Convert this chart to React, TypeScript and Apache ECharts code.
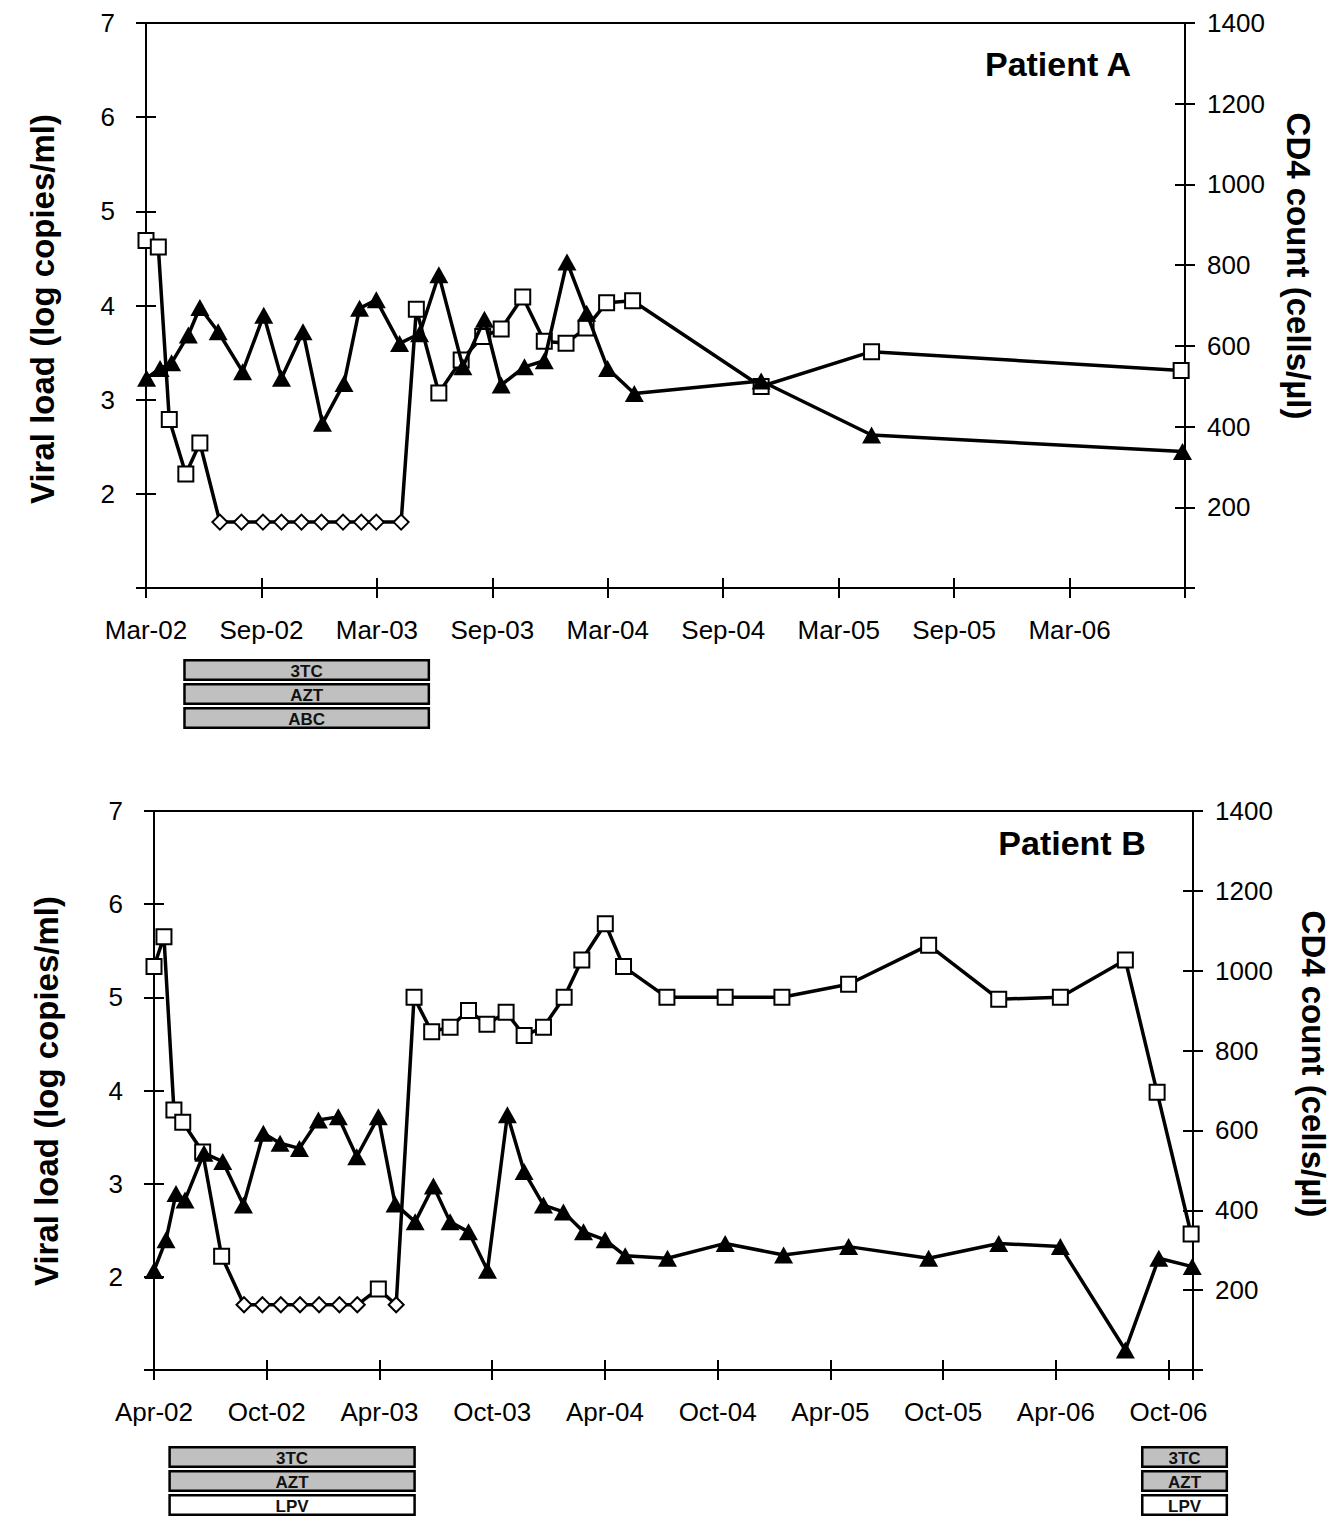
import React, { useEffect, useRef } from "react";
import * as echarts from "echarts";

// ---------- DATA ----------
// Patient A: months since Mar-2002
const ticksA = ["Mar-02", "Sep-02", "Mar-03", "Sep-03", "Mar-04", "Sep-04", "Mar-05", "Sep-05", "Mar-06"];
const vlMonthsA = [0, 0.64, 1.21, 2.07, 2.8, 3.84, 4.96, 6.08, 7.04, 8.08, 9.12, 10.24, 11.19, 11.97, 13.26, 14.05, 15.22, 16.38, 17.5, 18.46, 19.58, 20.7, 21.83, 22.87, 23.94, 25.29, 31.97, 37.71, 53.8];
const vlValuesA = [4.69, 4.62, 2.79, 2.21, 2.54, 1.7, 1.7, 1.7, 1.7, 1.7, 1.7, 1.7, 1.7, 1.7, 1.7, 3.96, 3.07, 3.42, 3.67, 3.75, 4.09, 3.62, 3.6, 3.76, 4.03, 4.05, 3.14, 3.51, 3.31];
const cd4MonthsA = [0.03, 0.73, 1.33, 2.2, 2.8, 3.75, 5.02, 6.12, 7.04, 8.16, 9.17, 10.29, 11.1, 11.97, 13.18, 14.22, 15.22, 16.47, 17.59, 18.46, 19.67, 20.7, 21.88, 22.9, 23.99, 25.38, 31.97, 37.71, 53.87];
const cd4ValuesA = [520, 544, 558, 627, 695, 635, 536, 676, 520, 635, 408, 507, 693, 714, 606, 630, 776, 548, 666, 503, 548, 563, 808, 681, 544, 482, 513, 379, 338];
const drugsA = ["3TC", "AZT", "ABC"];
const periodsA = [[2.0, 14.7]];

// Patient B: months since Apr-2002
const ticksB = ["Apr-02", "Oct-02", "Apr-03", "Oct-03", "Apr-04", "Oct-04", "Apr-05", "Oct-05", "Apr-06", "Oct-06"];
const vlMonthsB = [0, 0.53, 1.06, 1.53, 2.59, 3.6, 4.79, 5.77, 6.75, 7.77, 8.79, 9.87, 10.82, 11.94, 12.89, 13.84, 14.78, 15.76, 16.74, 17.72, 18.74, 19.7, 20.73, 21.83, 22.77, 24.02, 24.99, 27.3, 30.4, 33.42, 36.97, 41.23, 44.96, 48.24, 51.7, 53.39, 55.2];
const vlValuesB = [5.33, 5.65, 3.79, 3.66, 3.34, 2.22, 1.7, 1.7, 1.7, 1.7, 1.7, 1.7, 1.7, 1.87, 1.7, 5.0, 4.63, 4.68, 4.86, 4.71, 4.84, 4.59, 4.68, 5.0, 5.4, 5.79, 5.33, 5.0, 5.0, 5.0, 5.14, 5.56, 4.98, 5.0, 5.4, 3.98, 2.46];
const cd4MonthsB = [0, 0.64, 1.17, 1.65, 2.66, 3.66, 4.76, 5.82, 6.71, 7.74, 8.75, 9.81, 10.79, 11.94, 12.83, 13.9, 14.87, 15.76, 16.74, 17.75, 18.81, 19.7, 20.73, 21.79, 22.86, 24.01, 25.08, 27.33, 30.4, 33.51, 36.97, 41.23, 44.96, 48.24, 51.7, 53.48, 55.26];
const cd4ValuesB = [249, 326, 442, 426, 543, 522, 413, 593, 568, 555, 626, 634, 534, 634, 416, 371, 461, 371, 346, 250, 639, 497, 413, 396, 346, 326, 286, 280, 317, 288, 309, 280, 317, 309, 50, 280, 259];
const drugsB = ["3TC", "AZT", "LPV"];
const periodsB = [[0.83, 13.87], [52.6, 57.1]];

const DETECTION_LIMIT = 1.7;

// ---------- STYLE ----------
const FONT = '"Liberation Sans", Arial, Helvetica, sans-serif';
const drugFill: Record<string, string> = { "3TC": "#c0c0c0", AZT: "#c0c0c0", ABC: "#c0c0c0", LPV: "#ffffff" };
const TICK = { color: "#000", width: 2 };

function xAxisMain(grid: number, max: number, ticks: string[]) {
  return {
    type: "value", gridIndex: grid, min: 0, max, interval: 6, position: "bottom",
    axisLine: { show: true, onZero: false, lineStyle: { color: "#000", width: 2 } },
    axisTick: { show: true, inside: false, length: 10, lineStyle: TICK },
    splitLine: { show: false },
    axisLabel: {
      margin: 29, color: "#000", fontSize: 26, fontFamily: FONT,
      formatter: (v: number) => {
        const i = Math.round(v / 6);
        return Math.abs(v - i * 6) < 1e-6 && i < ticks.length ? ticks[i] : "";
      },
    },
  };
}
function xAxisTwin(grid: number, max: number) {
  return {
    type: "value", gridIndex: grid, min: 0, max, interval: 6, position: "bottom",
    axisLine: { show: false, onZero: false }, splitLine: { show: false }, axisLabel: { show: false },
    axisTick: { show: true, inside: true, length: 10, lineStyle: TICK },
  };
}
function xAxisHidden(grid: number, max: number) {
  return { type: "value", gridIndex: grid, min: 0, max, show: false, splitLine: { show: false } };
}
function yAxis(grid: number, pos: string, min: number, max: number, interval: number, margin: number) {
  return {
    type: "value", gridIndex: grid, position: pos, min, max, interval,
    axisLine: { show: true, onZero: false, lineStyle: { color: "#000", width: 2 } },
    axisTick: { show: true, inside: false, length: 10, lineStyle: TICK },
    splitLine: { show: false },
    axisLabel: {
      margin, color: "#000", fontSize: 26, fontFamily: FONT,
      formatter: (v: number) => (v === min ? "" : String(v)),
    },
  };
}
function yAxisTwin(grid: number, pos: string, min: number, max: number, interval: number) {
  return {
    type: "value", gridIndex: grid, position: pos, min, max, interval,
    axisLine: { show: false, onZero: false }, splitLine: { show: false }, axisLabel: { show: false },
    axisTick: { show: true, inside: true, length: 10, lineStyle: TICK },
  };
}
function yAxisHidden(grid: number) {
  return { type: "value", gridIndex: grid, min: 0, max: 3, inverse: true, show: false, splitLine: { show: false } };
}

function vlSeries(x: number, y: number, months: number[], values: number[]) {
  return {
    type: "line", xAxisIndex: x, yAxisIndex: y, z: 2,
    lineStyle: { color: "#000", width: 3.5 },
    itemStyle: { color: "#fff", borderColor: "#000", borderWidth: 2 },
    symbolSize: 15,
    data: months.map((m, i) => ({
      value: [m, values[i]],
      symbol: values[i] === DETECTION_LIMIT ? "diamond" : "rect",
      symbolSize: values[i] === DETECTION_LIMIT ? 15 : 15,
    })),
  };
}
function cd4Series(x: number, y: number, months: number[], values: number[]) {
  return {
    type: "line", xAxisIndex: x, yAxisIndex: y, z: 3,
    lineStyle: { color: "#000", width: 3.5 },
    itemStyle: { color: "#000", borderColor: "#000", borderWidth: 0 },
    symbol: "triangle", symbolSize: [19, 17],
    data: months.map((m, i) => [m, values[i]]),
  };
}
function treatSeries(x: number, y: number, drugs: string[], periods: number[][]) {
  const data: number[][] = [];
  periods.forEach((p) => drugs.forEach((_, r) => data.push([p[0], p[1], r])));
  return {
    type: "custom", xAxisIndex: x, yAxisIndex: y, clip: false,
    data,
    renderItem: (params: any, api: any) => {
      const r = api.value(2);
      const s = api.coord([api.value(0), r + 0.5]);
      const e = api.coord([api.value(1), r + 0.5]);
      const h = api.size([0, 1])[1] * 0.82;
      const name = drugs[r];
      return {
        type: "group",
        children: [
          { type: "rect", shape: { x: s[0], y: s[1] - h / 2, width: e[0] - s[0], height: h },
            style: { fill: drugFill[name], stroke: "#000", lineWidth: 2.5 } },
          { type: "text", style: { text: name, x: (s[0] + e[0]) / 2, y: s[1] + 1, align: "center", verticalAlign: "middle",
            font: `bold 17px ${FONT}`, fill: "#111" } },
        ],
      };
    },
  };
}

function textG(text: string, x: number, y: number, size: number, rotation = 0) {
  return {
    type: "text", x, y, rotation,
    style: { text, align: "center", verticalAlign: "middle", font: `bold ${size}px ${FONT}`, fill: "#000" },
  };
}

export default function App() {
  const ref = useRef<HTMLDivElement>(null);
  useEffect(() => {
    if (!ref.current) return;
    const chart = echarts.init(ref.current, undefined, { renderer: "svg" });
    const maxA = 54;
    const maxB = 55.3;
    const gA = { left: 146, top: 23, width: 1039, height: 565 };
    const gB = { left: 154, top: 811, width: 1039, height: 559 };
    chart.setOption({
      animation: false,
      backgroundColor: "#fff",
      grid: [
        { ...gA, show: true, borderColor: "#000", borderWidth: 2, backgroundColor: "transparent" },
        { left: 146, top: 658, width: 1039, height: 72, show: false },
        { ...gB, show: true, borderColor: "#000", borderWidth: 2, backgroundColor: "transparent" },
        { left: 154, top: 1445, width: 1039, height: 72, show: false },
        { ...gA, show: false },
        { ...gB, show: false },
      ],
      xAxis: [
        xAxisMain(0, maxA, ticksA),
        xAxisTwin(4, maxA),
        xAxisHidden(1, maxA),
        xAxisMain(2, maxB, ticksB),
        xAxisTwin(5, maxB),
        xAxisHidden(3, maxB),
      ],
      yAxis: [
        yAxis(0, "left", 1, 7, 1, 31),
        yAxisTwin(4, "left", 1, 7, 1),
        yAxis(0, "right", 0, 1400, 200, 22),
        yAxisTwin(4, "right", 0, 1400, 200),
        yAxisHidden(1),
        yAxis(2, "left", 1, 7, 1, 31),
        yAxisTwin(5, "left", 1, 7, 1),
        yAxis(2, "right", 0, 1400, 200, 22),
        yAxisTwin(5, "right", 0, 1400, 200),
        yAxisHidden(3),
      ],
      series: [
        vlSeries(0, 0, vlMonthsA, vlValuesA),
        cd4Series(0, 2, cd4MonthsA, cd4ValuesA),
        treatSeries(2, 4, drugsA, periodsA),
        vlSeries(3, 5, vlMonthsB, vlValuesB),
        cd4Series(3, 7, cd4MonthsB, cd4ValuesB),
        treatSeries(5, 9, drugsB, periodsB),
      ],
      graphic: [
        textG("Viral load (log copies/ml)", 42, 309, 33, Math.PI / 2),
        textG("CD4 count (cells/µl)", 1298, 266, 33, -Math.PI / 2),
        textG("Patient A", 1058, 64, 34),
        textG("Viral load (log copies/ml)", 46, 1091, 33, Math.PI / 2),
        textG("CD4 count (cells/µl)", 1313, 1064, 33, -Math.PI / 2),
        textG("Patient B", 1072, 843, 34),
      ],
    });
    return () => chart.dispose();
  }, []);
  return (
    <div
      ref={ref}
      style={{ position: "absolute", left: 0, top: 0, width: 1342, height: 1524, background: "#fff" }}
    />
  );
}
